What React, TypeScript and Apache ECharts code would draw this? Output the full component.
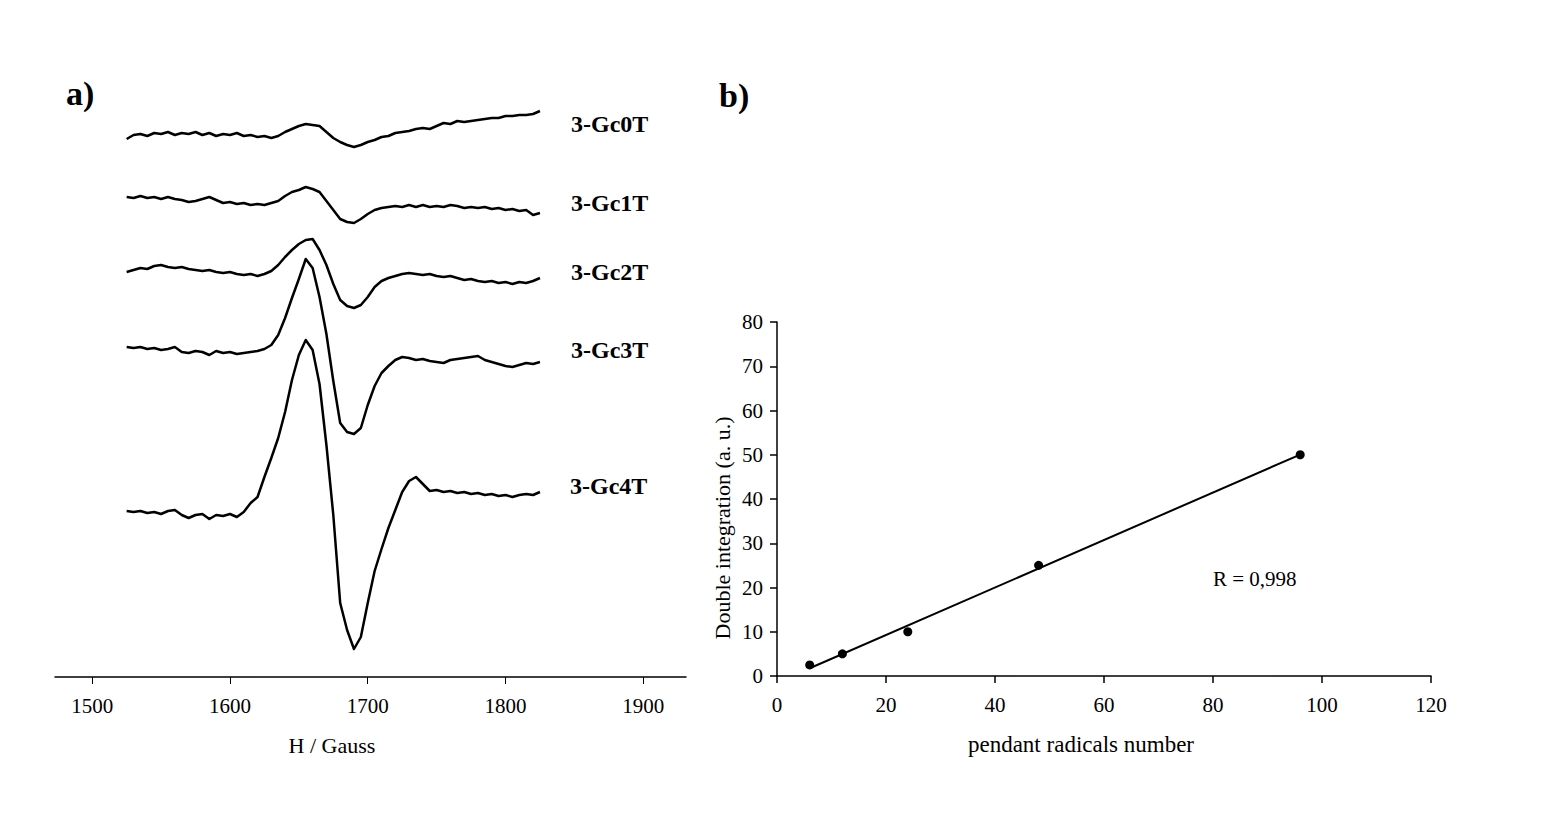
import { useEffect, useRef } from "react";
import * as echarts from "echarts";

const FONT = "'Liberation Serif', 'Times New Roman', serif";

// ---- a) EPR derivative spectra, offset vertically (arbitrary units) ----
const fieldGauss = [
  1525, 1530, 1535, 1540, 1545, 1550, 1555, 1560, 1565, 1570,
  1575, 1580, 1585, 1590, 1595, 1600, 1605, 1610, 1615, 1620,
  1625, 1630, 1635, 1640, 1645, 1650, 1655, 1660, 1665, 1670,
  1675, 1680, 1685, 1690, 1695, 1700, 1705, 1710, 1715, 1720,
  1725, 1730, 1735, 1740, 1745, 1750, 1755, 1760, 1765, 1770,
  1775, 1780, 1785, 1790, 1795, 1800, 1805, 1810, 1815, 1820, 1825,
];

const fieldTicks = [1500, 1600, 1700, 1800, 1900];

const sampleNames = ["3-Gc0T", "3-Gc1T", "3-Gc2T", "3-Gc3T", "3-Gc4T"];

const gc0T = [
  538, 542, 543, 541, 544, 543, 545, 542, 544, 543,
  545, 542, 544, 541, 543, 542, 544, 541, 542, 540,
  541, 539, 541, 545, 548, 551, 553, 552, 551, 545,
  539, 535, 532, 530, 532, 535, 537, 540, 541, 544,
  545, 546, 548, 549, 548, 551, 554, 553, 556, 555,
  556, 557, 558, 559, 559, 561, 561, 562, 562, 563, 566,
];

const gc1T = [
  480, 479, 481, 479, 480, 478, 480, 478, 477, 475,
  476, 478, 480, 477, 474, 475, 473, 474, 472, 473,
  472, 474, 476, 481, 485, 487, 490, 488, 485, 476,
  467, 458, 455, 454, 458, 463, 467, 469, 470, 471,
  470, 472, 470, 472, 470, 471, 470, 472, 471, 469,
  470, 469, 470, 468, 469, 467, 468, 466, 467, 462, 464,
];

const gc2T = [
  405, 407, 409, 408, 411, 412, 410, 409, 410, 408,
  407, 406, 407, 405, 404, 405, 403, 402, 403, 401,
  403, 406, 412, 420, 427, 433, 437, 438, 427, 412,
  393, 377, 371, 369, 372, 380, 390, 396, 399, 401,
  403, 404, 403, 402, 403, 401, 400, 401, 399, 397,
  398, 396, 395, 396, 394, 395, 393, 395, 394, 396, 399,
];

const gc3T = [
  330, 329, 330, 328, 329, 327, 328, 330, 325, 324,
  326, 325, 322, 326, 324, 325, 323, 324, 325, 326,
  328, 332, 342, 359, 379, 398, 418, 409, 380, 343,
  296, 254, 245, 243, 249, 272, 291, 304, 311, 317,
  320, 319, 317, 318, 316, 315, 314, 317, 318, 319,
  320, 321, 317, 315, 313, 311, 310, 312, 314, 313, 315,
];

const gc4T = [
  166, 165, 166, 164, 165, 163, 166, 167, 162, 159,
  162, 163, 158, 162, 161, 163, 160, 165, 174, 180,
  200, 219, 239, 265, 297, 322, 337, 327, 293, 232,
  162, 74, 47, 28, 40, 74, 106, 128, 149, 167,
  185, 196, 200, 193, 186, 187, 185, 186, 184, 185,
  183, 184, 182, 183, 181, 182, 180, 182, 183, 182, 185,
];

const spectra = [gc0T, gc1T, gc2T, gc3T, gc4T];

// ---- b) double integration vs. number of pendant radicals ----
const radicalsNumber = [6, 12, 24, 48, 96];
const doubleIntegration = [2.5, 5, 10, 25, 50];
const correlationLabel = "R = 0,998";

// least-squares straight line through the measured points
function linearFit(xs: number[], ys: number[]) {
  const n = xs.length;
  const mx = xs.reduce((a, b) => a + b, 0) / n;
  const my = ys.reduce((a, b) => a + b, 0) / n;
  let sxy = 0;
  let sxx = 0;
  for (let i = 0; i < n; i++) {
    sxy += (xs[i] - mx) * (ys[i] - my);
    sxx += (xs[i] - mx) * (xs[i] - mx);
  }
  const slope = sxy / sxx;
  return { slope, intercept: my - slope * mx };
}

// label anchors for each spectrum (left edge, vertical centre)
const sampleLabelPos = [
  [571, 124],
  [571, 203],
  [571, 272],
  [571, 350],
  [570, 486],
];

export default function App() {
  const ref = useRef<HTMLDivElement>(null);

  useEffect(() => {
    if (!ref.current) return;
    const chart = echarts.init(ref.current, undefined, { renderer: "svg" });

    const fit = linearFit(radicalsNumber, doubleIntegration);
    const xLo = Math.min(...radicalsNumber);
    const xHi = Math.max(...radicalsNumber);
    const fitLine = [
      [xLo, fit.slope * xLo + fit.intercept],
      [xHi, fit.slope * xHi + fit.intercept],
    ];

    const axisLineStyle = { color: "#000", width: 1.5 };
    const tickLabel = {
      color: "#000",
      fontSize: 21,
      fontFamily: FONT,
      formatter: (v: number) => String(v),
    };

    const spectrumSeries = spectra.map((vals, i) => ({
      name: sampleNames[i],
      type: "line",
      xAxisIndex: 0,
      yAxisIndex: 0,
      data: fieldGauss.map((g, k) => [g, vals[k]]),
      showSymbol: false,
      symbol: "none",
      lineStyle: { color: "#000", width: 2.5, join: "round" },
      silent: true,
    }));

    const textEl = (
      text: string,
      x: number,
      y: number,
      size: number,
      bold: boolean,
      align: string,
      rotation = 0
    ) => ({
      type: "text",
      x,
      y,
      rotation,
      silent: true,
      style: {
        text,
        fill: "#000",
        fontSize: size,
        fontFamily: FONT,
        fontWeight: bold ? "bold" : "normal",
        align,
        verticalAlign: "middle",
      },
    });

    const option = {
      animation: false,
      backgroundColor: "#ffffff",
      textStyle: { fontFamily: FONT, color: "#000" },
      grid: [
        { left: 55, right: 874, top: 77, bottom: 149 },
        { left: 777, right: 129, top: 322, bottom: 150 },
      ],
      xAxis: [
        {
          type: "value",
          gridIndex: 0,
          min: 1473,
          max: 1931,
          axisLine: { show: true, onZero: false, lineStyle: axisLineStyle },
          axisTick: {
            show: true,
            inside: false,
            length: 7,
            customValues: fieldTicks,
            lineStyle: { color: "#000", width: 1 },
          },
          axisLabel: { ...tickLabel, margin: 18, customValues: fieldTicks },
          splitLine: { show: false },
        },
        {
          type: "value",
          gridIndex: 1,
          min: 0,
          max: 120,
          interval: 20,
          axisLine: { show: true, onZero: false, lineStyle: axisLineStyle },
          axisTick: { show: true, inside: false, length: 7, lineStyle: { color: "#000", width: 1.5 } },
          axisLabel: { ...tickLabel, margin: 18 },
          splitLine: { show: false },
        },
      ],
      yAxis: [
        { type: "value", gridIndex: 0, min: 0, max: 600, show: false },
        {
          type: "value",
          gridIndex: 1,
          min: 0,
          max: 80,
          interval: 10,
          axisLine: { show: true, onZero: false, lineStyle: axisLineStyle },
          axisTick: { show: true, inside: false, length: 7, lineStyle: { color: "#000", width: 1.5 } },
          axisLabel: { ...tickLabel, margin: 14 },
          splitLine: { show: false },
        },
      ],
      series: [
        ...spectrumSeries,
        {
          name: "linear fit",
          type: "line",
          xAxisIndex: 1,
          yAxisIndex: 1,
          data: fitLine,
          showSymbol: false,
          symbol: "none",
          lineStyle: { color: "#000", width: 2 },
          silent: true,
        },
        {
          name: "double integration",
          type: "scatter",
          xAxisIndex: 1,
          yAxisIndex: 1,
          data: radicalsNumber.map((x, i) => [x, doubleIntegration[i]]),
          symbol: "circle",
          symbolSize: 9,
          itemStyle: { color: "#000", opacity: 1 },
          silent: true,
        },
      ],
      graphic: [
        textEl("a)", 66, 93, 34, true, "left"),
        textEl("b)", 719, 95, 34, true, "left"),
        ...sampleNames.map((n, i) =>
          textEl(n, sampleLabelPos[i][0], sampleLabelPos[i][1], 24, true, "left")
        ),
        textEl("H / Gauss", 332, 745, 22, false, "center"),
        textEl("pendant radicals number", 1081, 744, 23, false, "center"),
        textEl("Double integration (a. u.)", 722, 528, 22, false, "center", Math.PI / 2),
        textEl(correlationLabel, 1213, 579, 21, false, "left"),
      ],
    };

    chart.setOption(option as any);
    return () => chart.dispose();
  }, []);

  return (
    <div
      ref={ref}
      style={{ position: "fixed", left: 0, top: 0, width: 1560, height: 826, background: "#fff" }}
    />
  );
}
